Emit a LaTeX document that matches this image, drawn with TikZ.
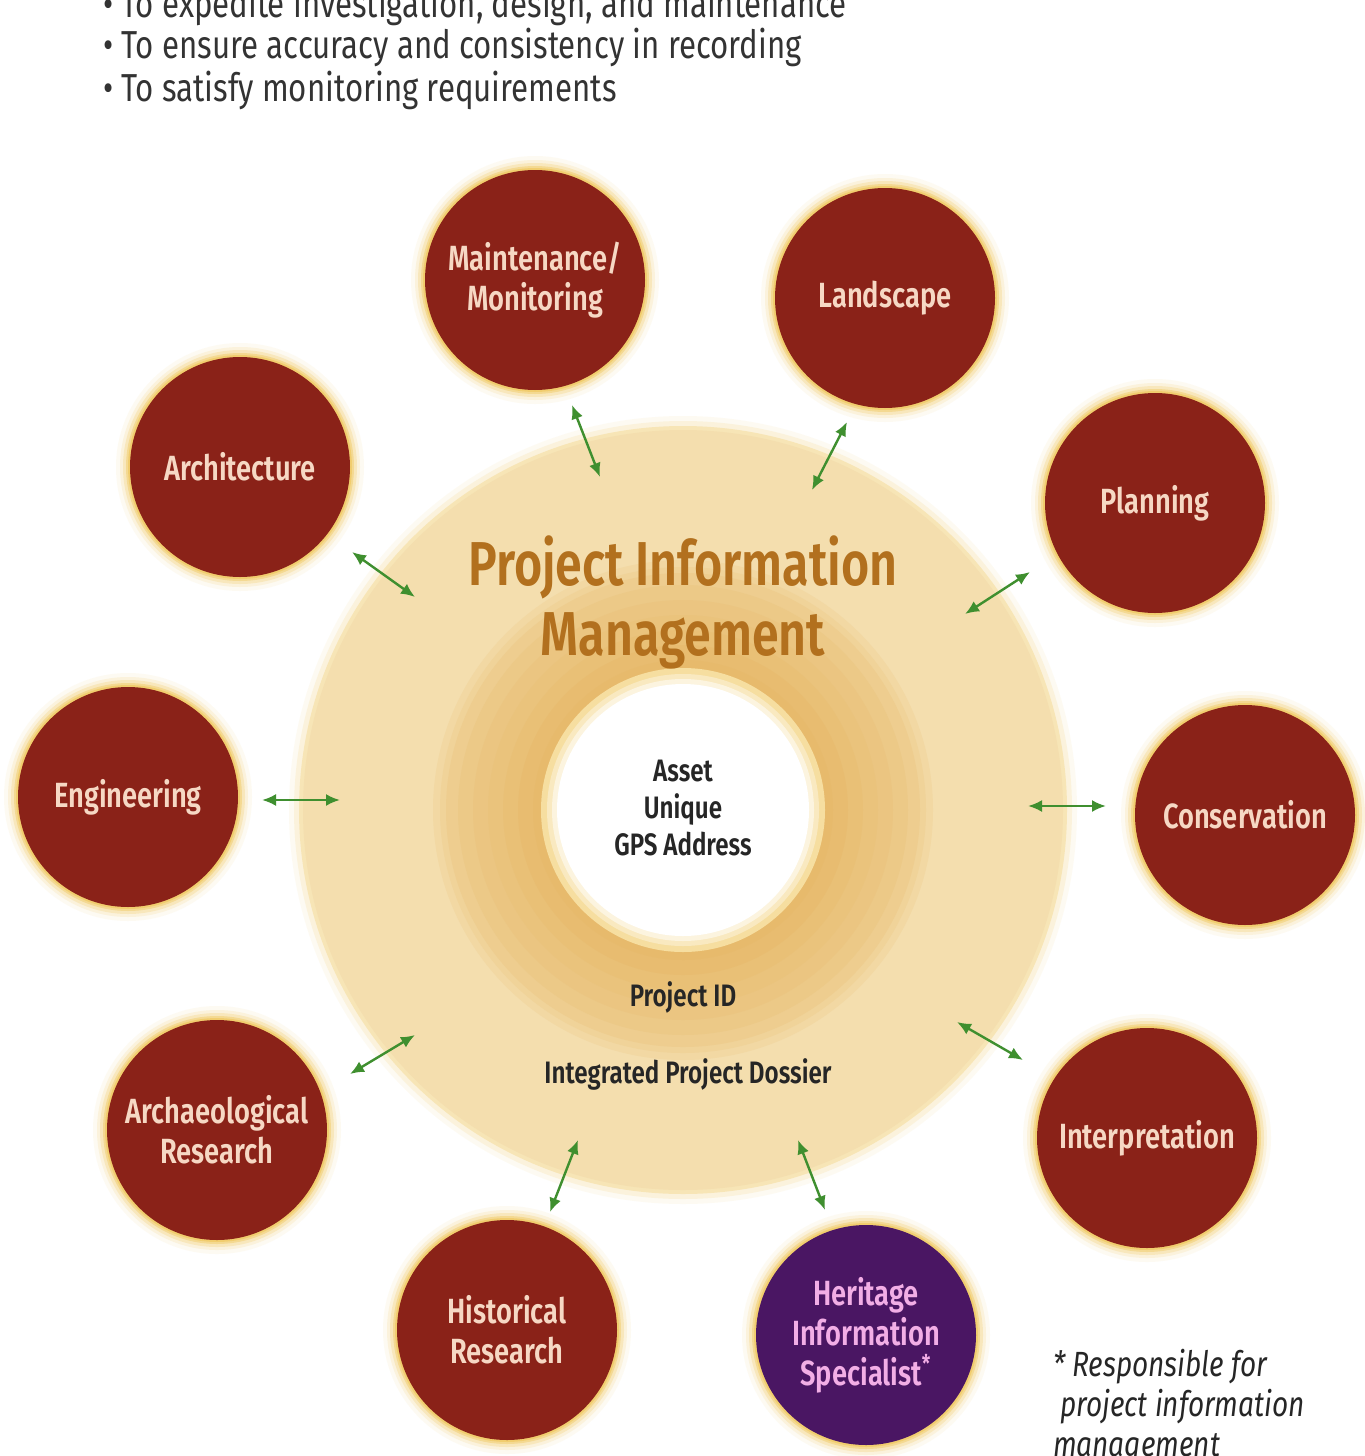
\documentclass[tikz,border=0pt]{standalone}
\usepackage{fontspec}
\setmainfont{Fira Sans}
\newfontfamily\cond[FakeStretch=0.8]{Fira Sans}
\newfontfamily\condb[FakeStretch=0.78]{Fira Sans SemiBold}
\usetikzlibrary{arrows.meta}
\definecolor{dred}{HTML}{8A2218}
\definecolor{dpur}{HTML}{4A1663}
\definecolor{ptxt}{HTML}{F6D8C4}
\definecolor{ptxt2}{HTML}{F2AEE6}
\definecolor{glow}{HTML}{F0C860}
\definecolor{beige}{HTML}{F4DEAE}
\definecolor{tan}{HTML}{E6B868}
\definecolor{ttl}{HTML}{B2701E}
\definecolor{agreen}{HTML}{3F8F2F}
\begin{document}
\begin{tikzpicture}[x=0.5pt,y=-0.5pt]
\useasboundingbox (0,0) rectangle (1365,1456);
\fill[white] (0,0) rectangle (1365,1456);
\tikzset{bul/.style={anchor=west,font=\cond\fontsize{19.5}{21}\selectfont,text=black!80},
  d/.style={circle,minimum size=110pt,inner sep=0pt,align=center,
    font=\condb\fontsize{17.5}{20}\selectfont,text=ptxt,fill=dred},
  ctxt/.style={font=\condb\fontsize{15.5}{18.5}\selectfont,text=black!85,align=center}}
% bullets
\node[bul] (b1) at (96,6) {• To expedite investigation, design, and maintenance};
\node[bul] (b2) at (96,47) {• To ensure accuracy and consistency in recording};
\node[bul] (b3) at (96,90) {• To satisfy monitoring requirements};
% rings
\foreach \r/\o in {394/0.08,389/0.15,384/0.3}{\fill[glow,opacity=\o] (683,810) circle (\r);}
\fill[beige] (683,810) circle (380);
\foreach \r/\m in {250/15,243/30,237/45,225/55,210/65,195/72,180/80,165/88,150/95}{
  \fill[tan!\m!beige] (683,810) circle (\r);}
\foreach \r/\m in {142/60,136/40,131/20}{\fill[glow!\m!white] (683,810) circle (\r);}
\fill[white] (683,810) circle (126);
\node[font=\condb\fontsize{31}{34}\selectfont,text=ttl,align=center] (ttl) at (683,602) {Project Information\\[1pt]Management};
\node[ctxt] (ctr) at (683,808) {Asset\\Unique\\GPS Address};
\node[ctxt] (pid) at (683,997) {Project ID};
\node[ctxt] (ipd) at (688,1074) {Integrated Project Dossier};
% discs with glow
\foreach \x/\y in {535/280,885/298,240/467,1155/503,128/797,1245/815,217/1130,1147/1138,507/1330,866/1335}{
  \foreach \r/\o in {124/0.08,120/0.15,117/0.25,114/0.45,112/0.7}{\fill[glow,opacity=\o] (\x,\y) circle (\r);}}
\node[d] (mm) at (535,280) {Maintenance/\\Monitoring};
\node[d] (ls) at (885,298) {Landscape};
\node[d] (ar) at (240,467) {Architecture};
\node[d] (pl) at (1155,503) {Planning};
\node[d] (en) at (128,797) {Engineering};
\node[d] (co) at (1245,815) {Conservation};
\node[d] (arc) at (217,1130) {Archaeological\\Research};
\node[d] (in) at (1147,1138) {Interpretation};
\node[d] (hr) at (507,1330) {Historical\\Research};
\node[d,fill=dpur,text=ptxt2] (his) at (866,1335) {Heritage\\Information\\Specialist\textsuperscript{*}};
% arrows
\coordinate (a1) at (572,405); \coordinate (a2) at (600,477);
\coordinate (b1c) at (847,422); \coordinate (b2c) at (812,490);
\coordinate (c1) at (352,552); \coordinate (c2) at (415,597);
\coordinate (d1) at (1030,572); \coordinate (d2) at (965,614);
\coordinate (e1) at (262,800); \coordinate (e2) at (340,800);
\coordinate (f1) at (1028,806); \coordinate (f2) at (1106,806);
\coordinate (g1) at (350,1074); \coordinate (g2) at (415,1035);
\coordinate (h1) at (957,1022); \coordinate (h2) at (1023,1060);
\coordinate (i1) at (578,1140); \coordinate (i2) at (550,1212);
\coordinate (j1) at (798,1140); \coordinate (j2) at (825,1210);
\foreach \p/\q in {a1/a2,b1c/b2c,c1/c2,d1/d2,e1/e2,f1/f2,g1/g2,h1/h2,i1/i2,j1/j2}{
  \draw[<->,>={Latex[length=7pt,width=6pt]},agreen,line width=1.2pt] (\p) -- (\q);}
\node[anchor=north west,align=left,font=\cond\itshape\fontsize{17.5}{20}\selectfont,text=black!85] (note) at (1046,1342) {* Responsible for\\\ project information\\management};
\end{tikzpicture}
\end{document}
